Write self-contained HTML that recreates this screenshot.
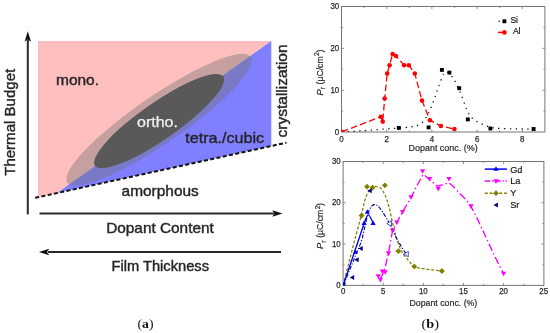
<!DOCTYPE html>
<html lang="en"><head><meta charset="utf-8"><title>Figure</title>
<style>html,body{margin:0;padding:0;background:#fff}svg{display:block}text{font-family:"Liberation Sans",sans-serif}.cap{font-family:"Liberation Serif",serif;font-size:13.5px;fill:#111}.lab{font-size:14.5px;fill:#262626;stroke:#262626;stroke-width:0.4px}.tk{font-size:8.8px;fill:#2a2a2a;stroke:#2a2a2a;stroke-width:0.25px}.ax{font-size:9.3px;fill:#2a2a2a;stroke:#2a2a2a;stroke-width:0.2px}.lg{font-size:8.6px;fill:#1a1a1a;stroke:#1a1a1a;stroke-width:0.2px}</style></head><body>
<svg width="550" height="333" viewBox="0 0 550 333">
<rect width="550" height="333" fill="#fff"/>
<g id="phase">
<polygon points="38,41 271.3,41 57,193 38,197.2" fill="#ffbfbf"/>
<polygon points="271.3,41 271.3,146 57,193" fill="#7f7fff"/>
<ellipse cx="159" cy="119.8" rx="111.3" ry="23.7" transform="rotate(-34.5 159 119.8)" fill="#707070" fill-opacity="0.4"/>
<ellipse cx="159.1" cy="121.1" rx="78.1" ry="18.5" transform="rotate(-34.8 159.1 121.1)" fill="#595959"/>
<line x1="35.2" y1="197.85" x2="286.4" y2="142.7" stroke="#111" stroke-width="2" stroke-dasharray="4 2.4"/>
<line x1="27.8" y1="214.4" x2="27.8" y2="40" stroke="#2a2a2a" stroke-width="2"/>
<polygon points="27.8,31.3 31,41.8 27.8,39.6 24.6,41.8" fill="#111"/>
<line x1="39.5" y1="213.5" x2="274" y2="213.5" stroke="#2a2a2a" stroke-width="2"/>
<polygon points="282.5,213.5 272.2,216.7 274.4,213.5 272.2,210.3" fill="#111"/>
<line x1="48" y1="252" x2="281" y2="252" stroke="#2a2a2a" stroke-width="2"/>
<polygon points="38.9,252 49.2,248.8 47,252 49.2,255.2" fill="#111"/>
<text class="lab" x="56" y="85.3" textLength="43" lengthAdjust="spacingAndGlyphs">mono.</text>
<text class="lab" x="137" y="127" textLength="41" lengthAdjust="spacingAndGlyphs" style="fill:#f2f2f2;stroke:#f2f2f2;stroke-width:0.25px">ortho.</text>
<text class="lab" x="185.2" y="143" textLength="79" lengthAdjust="spacingAndGlyphs">tetra./cubic</text>
<text class="lab" x="121.6" y="195.8" textLength="77.2" lengthAdjust="spacingAndGlyphs">amorphous</text>
<text class="lab" x="106.2" y="233.2" textLength="107.6" lengthAdjust="spacingAndGlyphs">Dopant Content</text>
<text class="lab" x="111.5" y="270.7" textLength="97.5" lengthAdjust="spacingAndGlyphs">Film Thickness</text>
<text class="lab" transform="translate(14.7 175.8) rotate(-90)" textLength="107" lengthAdjust="spacingAndGlyphs">Thermal Budget</text>
<text class="lab" transform="translate(286.5 137.4) rotate(-90)" textLength="93" lengthAdjust="spacingAndGlyphs">crystallization</text>
</g>
<text class="cap" x="137.5" y="327.8" textLength="16" lengthAdjust="spacingAndGlyphs">(<tspan font-weight="bold">a</tspan>)</text>
<text class="cap" x="421.6" y="327.8" textLength="17.5" lengthAdjust="spacingAndGlyphs">(<tspan font-weight="bold">b</tspan>)</text>
<g id="top">
<rect x="341.5" y="6.5" width="203.4" height="125.5" fill="none" stroke="#757575" stroke-width="1"/>
<path d="M386.7 132v-2.6M386.7 6.5v2.6M431.9 132v-2.6M431.9 6.5v2.6M477.1 132v-2.6M477.1 6.5v2.6M522.3 132v-2.6M522.3 6.5v2.6M364.1 132v-1.5M364.1 6.5v1.5M409.3 132v-1.5M409.3 6.5v1.5M454.5 132v-1.5M454.5 6.5v1.5M499.7 132v-1.5M499.7 6.5v1.5M341.5 90.17h2.6M544.9 90.17h-2.6M341.5 48.33h2.6M544.9 48.33h-2.6M341.5 111.08h1.5M544.9 111.08h-1.5M341.5 69.25h1.5M544.9 69.25h-1.5M341.5 27.42h1.5M544.9 27.42h-1.5" stroke="#757575" stroke-width="0.8" fill="none"/>
<clipPath id="ct"><rect x="341.5" y="6.5" width="203.4" height="125.5"/></clipPath><g clip-path="url(#ct)">
<path d="M341.9 131.9C343.78 131.82 349.43 131.62 353.2 131.4C356.97 131.18 360.72 130.88 364.5 130.6C368.28 130.32 372.03 130 375.9 129.7C379.77 129.4 383.92 129.07 387.7 128.8C391.48 128.53 394.8 128.4 398.6 128.1C402.4 127.8 407.62 127.37 410.5 127C413.38 126.63 414.08 126.53 415.9 125.9C417.72 125.27 419.82 124.42 421.4 123.2C422.98 121.98 424.28 120.12 425.4 118.6C426.52 117.08 427.17 115.92 428.1 114.1C429.03 112.28 429.92 110.33 431 107.7C432.08 105.07 433.4 101.63 434.6 98.3C435.8 94.97 436.9 91.33 438.2 87.7C439.5 84.07 441.33 78.95 442.4 76.5C443.47 74.05 443.9 73.73 444.6 73C445.3 72.27 445.87 72.07 446.6 72.1C447.33 72.13 448.03 72.35 449 73.2C449.97 74.05 451.23 75.53 452.4 77.2C453.57 78.87 454.58 80.38 456 83.2C457.42 86.02 459.35 90.3 460.9 94.1C462.45 97.9 464.12 102.97 465.3 106C466.48 109.03 466.92 110.35 468 112.3C469.08 114.25 470.25 116.1 471.8 117.7C473.35 119.3 475.42 120.77 477.3 121.9C479.18 123.03 481.13 123.68 483.1 124.5C485.07 125.32 487.2 126.2 489.1 126.8C491 127.4 492.68 127.82 494.5 128.1C496.32 128.38 497.12 128.38 500 128.5C502.88 128.62 507.87 128.72 511.8 128.8C515.73 128.88 519.97 128.97 523.6 129C527.23 129.03 531.93 129 533.6 129" fill="none" stroke="#111" stroke-width="1.25" stroke-dasharray="1.3 4.5"/>
<rect x="396.85" y="125.95" width="3.9" height="3.9" fill="#000"/>
<rect x="426.65" y="125.45" width="3.9" height="3.9" fill="#000"/>
<rect x="439.95" y="67.95" width="3.9" height="3.9" fill="#000"/>
<rect x="447.45" y="70.65" width="3.9" height="3.9" fill="#000"/>
<rect x="457.25" y="86.25" width="3.9" height="3.9" fill="#000"/>
<rect x="465.85" y="117.45" width="3.9" height="3.9" fill="#000"/>
<rect x="488.45" y="126.55" width="3.9" height="3.9" fill="#000"/>
<rect x="531.65" y="127.05" width="3.9" height="3.9" fill="#000"/>
<polyline points="341.9,131.8 380.8,116.7 382.7,121.6 384.7,98.6 387.2,73.5 389.6,65.2 392.6,54 395.9,56 404.1,65.2 408.8,65.2 414.8,73.5 422,100.6 430,120.3 440.9,126 454.4,129" fill="none" stroke="#f00" stroke-width="1.3" stroke-dasharray="6.5 3.2"/>
<circle cx="341.9" cy="131.8" r="2.3" fill="#f00"/>
<circle cx="380.8" cy="116.7" r="2.3" fill="#f00"/>
<circle cx="382.7" cy="121.6" r="2.3" fill="#f00"/>
<circle cx="384.7" cy="98.6" r="2.3" fill="#f00"/>
<circle cx="387.2" cy="73.5" r="2.3" fill="#f00"/>
<circle cx="389.6" cy="65.2" r="2.3" fill="#f00"/>
<circle cx="392.6" cy="54" r="2.3" fill="#f00"/>
<circle cx="395.9" cy="56" r="2.3" fill="#f00"/>
<circle cx="404.1" cy="65.2" r="2.3" fill="#f00"/>
<circle cx="408.8" cy="65.2" r="2.3" fill="#f00"/>
<circle cx="414.8" cy="73.5" r="2.3" fill="#f00"/>
<circle cx="422" cy="100.6" r="2.3" fill="#f00"/>
<circle cx="430" cy="120.3" r="2.3" fill="#f00"/>
<circle cx="440.9" cy="126" r="2.3" fill="#f00"/>
<circle cx="454.4" cy="129" r="2.3" fill="#f00"/>
</g>
<rect x="498.5" y="20.7" width="1.3" height="1.2" fill="#111"/>
<rect x="502.45" y="19.35" width="3.9" height="3.9" fill="#000"/>
<line x1="498" y1="32.4" x2="504" y2="32.4" stroke="#f00" stroke-width="1.5"/>
<circle cx="504.4" cy="32.4" r="2.3" fill="#f00"/>
<text class="lg" x="510.4" y="23.2">Si</text>
<text class="lg" x="512.9" y="34.4">Al</text>
<text class="tk" x="334.81" y="134.5" textLength="4.39" lengthAdjust="spacingAndGlyphs">0</text>
<text class="tk" x="330.42" y="92.67" textLength="8.78" lengthAdjust="spacingAndGlyphs">10</text>
<text class="tk" x="330.42" y="50.83" textLength="8.78" lengthAdjust="spacingAndGlyphs">20</text>
<text class="tk" x="330.42" y="9" textLength="8.78" lengthAdjust="spacingAndGlyphs">30</text>
<text class="tk" x="339.3" y="141.5" textLength="4.39" lengthAdjust="spacingAndGlyphs">0</text>
<text class="tk" x="384.5" y="141.5" textLength="4.39" lengthAdjust="spacingAndGlyphs">2</text>
<text class="tk" x="429.7" y="141.5" textLength="4.39" lengthAdjust="spacingAndGlyphs">4</text>
<text class="tk" x="474.9" y="141.5" textLength="4.39" lengthAdjust="spacingAndGlyphs">6</text>
<text class="tk" x="520.1" y="141.5" textLength="4.39" lengthAdjust="spacingAndGlyphs">8</text>
<text class="ax" style="font-size:9px" x="408.5" y="150.5" textLength="69.2" lengthAdjust="spacingAndGlyphs">Dopant conc. (%)</text>
<g transform="translate(322.6 95.6) rotate(-90)"><text class="ax" x="0" y="0" font-style="italic">P</text><text class="ax" x="6.3" y="2.6" style="font-size:7px">r</text><text class="ax" x="11.2" y="0" textLength="28" lengthAdjust="spacingAndGlyphs">(µC/cm</text><text class="ax" x="39.7" y="-3.6" style="font-size:6.8px">2</text><text class="ax" x="43.1" y="0">)</text></g>
</g>
<g id="bot">
<rect x="343.1" y="161.5" width="200.8" height="123.9" fill="none" stroke="#757575" stroke-width="1"/>
<path d="M383.23 285.4v-2.6M383.23 161.5v2.6M423.35 285.4v-2.6M423.35 161.5v2.6M463.48 285.4v-2.6M463.48 161.5v2.6M503.6 285.4v-2.6M503.6 161.5v2.6M363.16 285.4v-1.5M363.16 161.5v1.5M403.29 285.4v-1.5M403.29 161.5v1.5M443.41 285.4v-1.5M443.41 161.5v1.5M483.54 285.4v-1.5M483.54 161.5v1.5M523.66 285.4v-1.5M523.66 161.5v1.5M343.1 244.1h2.6M543.9 244.1h-2.6M343.1 202.8h2.6M543.9 202.8h-2.6M343.1 264.75h1.5M543.9 264.75h-1.5M343.1 223.45h1.5M543.9 223.45h-1.5M343.1 182.15h1.5M543.9 182.15h-1.5" stroke="#757575" stroke-width="0.8" fill="none"/>
<clipPath id="cb"><rect x="343.1" y="161.5" width="200.8" height="123.9"/></clipPath><g clip-path="url(#cb)">
<path d="M343.2 285.2C344.13 281.5 346.93 270.35 348.8 263C350.67 255.65 352.32 249.02 354.4 241.1C356.48 233.18 359.53 222.35 361.3 215.5C363.07 208.65 363.72 204.17 365 200C366.28 195.83 367.67 192.67 369 190.5C370.33 188.33 371.67 187.67 373 187C374.33 186.33 375.67 186.25 377 186.5C378.33 186.75 379.67 187.08 381 188.5C382.33 189.92 383.67 191.92 385 195C386.33 198.08 387.67 202 389 207C390.33 212 391.67 219.5 393 225C394.33 230.5 395.5 235.5 397 240C398.5 244.5 400.17 248.67 402 252C403.83 255.33 405.95 257.58 408 260C410.05 262.42 411.47 265 414.3 266.5C417.13 268 420.4 268.25 425 269C429.6 269.75 439.08 270.67 441.9 271" fill="none" stroke="#808000" stroke-width="1.25" stroke-dasharray="3 1.8"/>
<path d="M343.3 285.2C344.32 282.75 347.38 275.4 349.4 270.5C351.42 265.6 353.4 260.7 355.4 255.8C357.4 250.9 359.8 246.07 361.4 241.1C363 236.13 363.9 230.6 365 226C366.1 221.4 367 216.67 368 213.5C369 210.33 369.95 208.48 371 207C372.05 205.52 373.13 204.77 374.3 204.6C375.47 204.43 376.55 204.67 378 206C379.45 207.33 381.08 209.68 383 212.6C384.92 215.52 387.33 219.43 389.5 223.5C391.67 227.57 394.08 233.25 396 237C397.92 240.75 399.28 243.15 401 246C402.72 248.85 405.42 252.75 406.3 254.1" fill="none" stroke="#00008b" stroke-width="1.1" stroke-dasharray="4 1.6 1.2 1.6"/>
<path d="M343.2 285.2L364.3 223C366 217.5 367 214.8 368.3 214.8C369.6 214.8 371 218 373.1 223.1" fill="none" stroke="#0000ff" stroke-width="1.35"/>
<path d="M380.2 279.5 L384.3 271 L388.4 253.5 L392.6 230.5 L396.8 222.5 L402.6 211.9 L411.1 197.5 L416.2 186.9 L423.3 174.3 L429.5 179.6 L437.3 186.2 L447.5 183.2C448 183.33 448.68 182.53 450.5 184C452.32 185.47 455.02 188.27 458.4 192C461.78 195.73 466.67 199.85 470.8 206.4C474.93 212.95 479.33 223.25 483.2 231.3C487.07 239.35 490.57 247.58 494 254.7C497.43 261.82 502.17 270.78 503.8 274" fill="none" stroke="#ff00ff" stroke-width="1.35" stroke-dasharray="7.5 2.8 1.5 2.8"/>
<polygon points="361.6,212.6 364.5,215.5 361.6,218.4 358.7,215.5" fill="#808000"/>
<polygon points="367,183.8 369.9,186.7 367,189.6 364.1,186.7" fill="#808000"/>
<polygon points="372.5,184.7 375.4,187.6 372.5,190.5 369.6,187.6" fill="#808000"/>
<polygon points="384.9,182.4 387.8,185.3 384.9,188.2 382,185.3" fill="#808000"/>
<polygon points="398.3,248.3 401.2,251.2 398.3,254.1 395.4,251.2" fill="#808000"/>
<polygon points="414.3,263.6 417.2,266.5 414.3,269.4 411.4,266.5" fill="#808000"/>
<polygon points="441.9,268.1 444.8,271 441.9,273.9 439,271" fill="#808000"/>
<polygon points="341.1,284.6 345.48,282.1 345.48,287.1" fill="#00008b" stroke="none" stroke-width="0.8"/>
<polygon points="349.8,277.4 354.18,274.9 354.18,279.9" fill="#00008b" stroke="none" stroke-width="0.8"/>
<polygon points="354.3,259.8 358.68,257.3 358.68,262.3" fill="#00008b" stroke="none" stroke-width="0.8"/>
<polygon points="358.4,248.6 362.77,246.1 362.77,251.1" fill="#00008b" stroke="none" stroke-width="0.8"/>
<polygon points="367.4,190.8 371.77,188.3 371.77,193.3" fill="#00008b" stroke="none" stroke-width="0.8"/>
<polygon points="386.8,223.5 391.52,220.8 391.52,226.2" fill="#fff" stroke="#2222cc" stroke-width="0.8"/>
<polygon points="403.6,254.1 408.32,251.4 408.32,256.8" fill="#fff" stroke="#2222cc" stroke-width="0.8"/>
<polygon points="355.4,249.3 358,253.85 352.8,253.85" fill="#0000ff" stroke="none" stroke-width="0.8"/>
<polygon points="364.1,220.5 366.7,225.05 361.5,225.05" fill="#0000ff" stroke="none" stroke-width="0.8"/>
<polygon points="367.3,209.3 369.9,213.85 364.7,213.85" fill="#0000ff" stroke="none" stroke-width="0.8"/>
<polygon points="373.1,220.5 375.7,225.05 370.5,225.05" fill="#0000ff" stroke="none" stroke-width="0.8"/>
<polygon points="380.4,282.4 383,277.85 377.8,277.85" fill="#ff00ff" stroke="none" stroke-width="0.8"/>
<polygon points="378.3,278.8 380.9,274.25 375.7,274.25" fill="#ff00ff" stroke="none" stroke-width="0.8"/>
<polygon points="382.3,274.1 384.9,269.55 379.7,269.55" fill="#ff00ff" stroke="none" stroke-width="0.8"/>
<polygon points="385.2,274.7 387.8,270.15 382.6,270.15" fill="#ff00ff" stroke="none" stroke-width="0.8"/>
<polygon points="388.5,255.9 391.1,251.35 385.9,251.35" fill="#ff00ff" stroke="none" stroke-width="0.8"/>
<polygon points="392.5,233 395.1,228.45 389.9,228.45" fill="#ff00ff" stroke="none" stroke-width="0.8"/>
<polygon points="396.8,225.1 399.4,220.55 394.2,220.55" fill="#ff00ff" stroke="none" stroke-width="0.8"/>
<polygon points="402.6,214.5 405.2,209.95 400,209.95" fill="#ff00ff" stroke="none" stroke-width="0.8"/>
<polygon points="411,199.8 413.6,195.25 408.4,195.25" fill="#ff00ff" stroke="none" stroke-width="0.8"/>
<polygon points="422.6,173.8 425.2,169.25 420,169.25" fill="#ff00ff" stroke="none" stroke-width="0.8"/>
<polygon points="429.6,181.5 432.2,176.95 427,176.95" fill="#ff00ff" stroke="none" stroke-width="0.8"/>
<polygon points="438.3,191.4 440.9,186.85 435.7,186.85" fill="#ff00ff" stroke="none" stroke-width="0.8"/>
<polygon points="449,181.5 451.6,176.95 446.4,176.95" fill="#ff00ff" stroke="none" stroke-width="0.8"/>
<polygon points="471,208.9 473.6,204.35 468.4,204.35" fill="#ff00ff" stroke="none" stroke-width="0.8"/>
<polygon points="503.6,276.2 506.2,271.65 501,271.65" fill="#ff00ff" stroke="none" stroke-width="0.8"/>
</g>
<line x1="484.8" y1="169.1" x2="506.9" y2="169.1" stroke="#0000ff" stroke-width="1.5"/>
<polygon points="496,166.3 498.6,170.85 493.4,170.85" fill="#0000ff" stroke="none" stroke-width="0.8"/>
<line x1="484.8" y1="181.1" x2="506.9" y2="181.1" stroke="#ff00ff" stroke-width="1.5" stroke-dasharray="5.5 1.8 1.3 1.8"/>
<polygon points="496,184.1 498.8,179.2 493.2,179.2" fill="#ff00ff" stroke="none" stroke-width="0.8"/>
<line x1="484.8" y1="193.2" x2="506.9" y2="193.2" stroke="#808000" stroke-width="1.4" stroke-dasharray="3 1.8"/>
<polygon points="496,190.3 498.9,193.2 496,196.1 493.1,193.2" fill="#808000"/>
<polygon points="493.5,205.1 497.88,202.6 497.88,207.6" fill="#00008b" stroke="none" stroke-width="0.8"/>
<text class="lg" style="font-size:9.2px" x="510.2" y="172.6">Gd</text>
<text class="lg" style="font-size:9.2px" x="510.2" y="184.4">La</text>
<text class="lg" style="font-size:9.2px" x="510.2" y="196.3">Y</text>
<text class="lg" style="font-size:9.2px" x="510.2" y="208.3">Sr</text>
<text class="tk" x="336.31" y="287.9" textLength="4.39" lengthAdjust="spacingAndGlyphs">0</text>
<text class="tk" x="331.92" y="246.6" textLength="8.78" lengthAdjust="spacingAndGlyphs">10</text>
<text class="tk" x="331.92" y="205.3" textLength="8.78" lengthAdjust="spacingAndGlyphs">20</text>
<text class="tk" x="331.92" y="164" textLength="8.78" lengthAdjust="spacingAndGlyphs">30</text>
<text class="tk" x="340.9" y="294.4" textLength="4.39" lengthAdjust="spacingAndGlyphs">0</text>
<text class="tk" x="381.03" y="294.4" textLength="4.39" lengthAdjust="spacingAndGlyphs">5</text>
<text class="tk" x="418.95" y="294.4" textLength="8.78" lengthAdjust="spacingAndGlyphs">10</text>
<text class="tk" x="459.08" y="294.4" textLength="8.78" lengthAdjust="spacingAndGlyphs">15</text>
<text class="tk" x="499.2" y="294.4" textLength="8.78" lengthAdjust="spacingAndGlyphs">20</text>
<text class="tk" x="539.33" y="294.4" textLength="8.78" lengthAdjust="spacingAndGlyphs">25</text>
<text class="ax" style="font-size:8.8px" x="409.5" y="305.7" textLength="67.8" lengthAdjust="spacingAndGlyphs">Dopant conc. (%)</text>
<g transform="translate(323.3 249) rotate(-90)"><text class="ax" x="0" y="0" font-style="italic">P</text><text class="ax" x="6.3" y="2.6" style="font-size:7px">r</text><text class="ax" x="11.2" y="0" textLength="28" lengthAdjust="spacingAndGlyphs">(µC/cm</text><text class="ax" x="39.7" y="-3.6" style="font-size:6.8px">2</text><text class="ax" x="43.1" y="0">)</text></g>
</g>
</svg></body></html>
